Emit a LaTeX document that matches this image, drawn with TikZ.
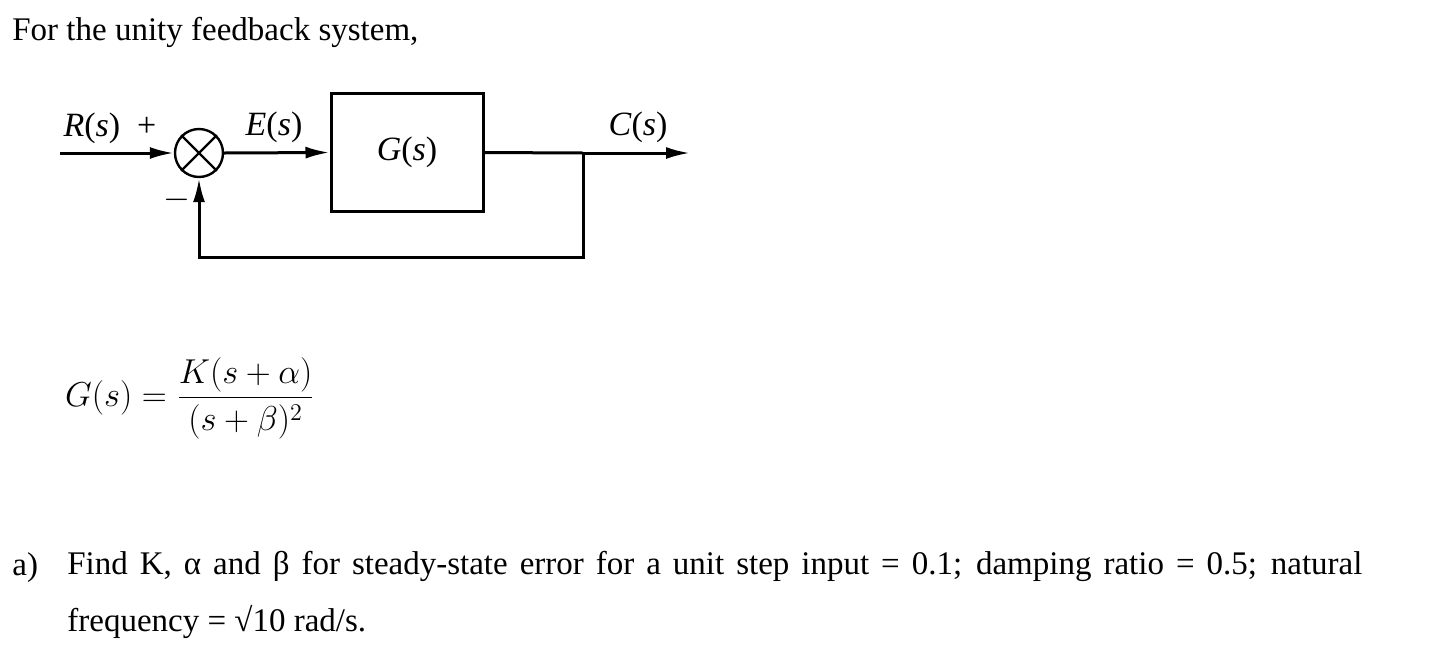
\documentclass[tikz,border=0pt]{standalone}
\usepackage{fontspec}
\setmainfont{Liberation Serif}
\usetikzlibrary{arrows.meta}
\newcommand{\sig}[1]{\textit{#1}(\textit{s})}
\begin{document}
\begin{tikzpicture}[x=0.5pt,y=-0.5pt,
  sig/.style={line width=1.5pt,-{Latex[length=12pt,width=6pt]}},
  wire/.style={line width=1.5pt},
  lab/.style={font=\fontsize{17}{20}\selectfont},
  txt/.style={font=\fontsize{16.5}{28.5}\selectfont,inner sep=0}]
\useasboundingbox (0,0) rectangle (1436,654);
\node[txt,anchor=base west] (title) at (12,40) {For the unity feedback system,};
\node[draw,circle,line width=1.2pt,minimum size=24pt,inner sep=0] (sum) at (199,153) {};
\draw[line width=1.2pt] (sum.north west) -- (sum.south east) (sum.north east) -- (sum.south west);
\node[draw,line width=1.5pt,minimum width=76pt,minimum height=59pt] (G) at (407,152.5) {};
\node[lab] (Gl) at (407,152) {\sig{G}};
\coordinate (rin) at (60,153);
\coordinate (br) at (583,153);
\coordinate (out) at (690,153);
\coordinate (fb1) at (583,257);
\coordinate (fb2) at (199,257);
\draw[sig] (rin) -- (sum.west);
\draw[sig] (sum.east) -- (G.west);
\draw[wire] (G.east) -- (br);
\draw[sig] (br) -- (out);
\draw[sig] (br) -- (fb1) -- (fb2) -- (sum.south);
\node[lab] (Rl) at (110,128) {\sig{R}\ \ +};
\node[lab] (El) at (274,127) {\sig{E}};
\node[lab] (Cl) at (638,127) {\sig{C}};
\node[lab] (mi) at (177,200) {$-$};
\node[font=\fontsize{18.5}{22}\selectfont] (eq) at (190,398) {$\displaystyle G(s)=\frac{K(s+\alpha)}{(s+\beta)^2}$};
\node[txt,anchor=base west] (a) at (12,575) {a)};
\node[txt,anchor=north west,text width=647.5pt,align=justify] (q) at (67,551)
 {Find K, α and β for steady-state error for a unit step input = 0.1; damping ratio = 0.5; natural\linebreak frequency = √10 rad/s.};
\end{tikzpicture}
\end{document}
